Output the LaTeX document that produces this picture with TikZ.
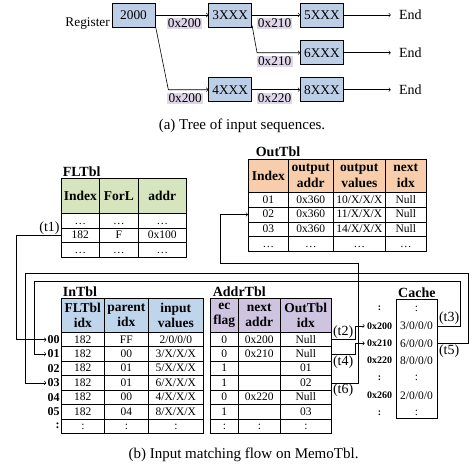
\documentclass[tikz,border=0pt]{standalone}
\usepackage{fontspec}
\setmainfont{Liberation Serif}
\usetikzlibrary{positioning}
\definecolor{seqblue}{RGB}{189,207,231}
\definecolor{addrpurple}{RGB}{224,214,234}
\definecolor{flgreen}{RGB}{214,229,189}
\definecolor{outorange}{RGB}{248,205,172}
\definecolor{inblue}{RGB}{190,213,236}
\definecolor{adpurple}{RGB}{206,196,224}

\begin{document}
\begin{tikzpicture}[x=1pt, y=-1pt, line width=0.7pt,
			seqbox/.style={draw, fill=seqblue, minimum width=43pt, minimum height=24pt, inner sep=0pt, font=\fontsize{13.3}{15}\selectfont},
			seqaddr/.style={fill=addrpurple, inner sep=1.2pt, font=\fontsize{13.3}{15}\selectfont},
			endlbl/.style={inner sep=0pt, inner xsep=8pt, anchor=west, font=\fontsize{14}{16}\selectfont},
			flow/.style={->, line width=0.6pt},
			caption/.style={font=\fontsize{15}{18}\selectfont},
			title/.style={anchor=south west, inner sep=1.5pt, font=\fontsize{14}{16}\selectfont\bfseries},
			hcell/.style={draw, anchor=north west, inner sep=0pt, align=center, font=\fontsize{13.5}{15.5}\selectfont\bfseries},
			cell/.style={draw, anchor=north west, inner sep=0pt, text height=9pt, text depth=2pt, font=\fontsize{11.5}{13}\selectfont},
			rowlbl/.style={inner sep=1pt, font=\fontsize{12}{14}\selectfont\bfseries},
			tlbl/.style={inner sep=1pt, font=\fontsize{14}{16}\selectfont},
			cval/.style={inner sep=1pt, font=\fontsize{11.5}{13}\selectfont},
			caddr/.style={inner sep=2pt, font=\fontsize{10}{12}\selectfont\bfseries}]
		\useasboundingbox (0,0) rectangle (474,474);

		\node[seqbox] (b2000) at (133.5,15) {2000};
		\node[anchor=base east, inner sep=1.5pt, font=\fontsize{13.3}{15}\selectfont] (reg) at ([yshift=1pt]b2000.south west) {Register};
		\node[seqbox, right=53pt of b2000] (b3) {3XXX};
		\node[seqbox, right=48pt of b3] (b5) {5XXX};
		\node[seqbox, below=13pt of b5] (b6) {6XXX};
		\node[seqbox, below=50pt of b3] (b4) {4XXX};
		\node[seqbox, right=48pt of b4] (b8) {8XXX};
		\foreach \b in {5,6,8}
			\node[endlbl, right=47pt of b\b] (e\b) {End};
		\draw[flow] (b2000) -- node[seqaddr, below=2.5pt, pos=0.55] {0x200} (b3);
		\draw[flow] ([yshift=2pt]b2000.south east) -- ([xshift=-40pt]b4.west) -- node[seqaddr, below=2.5pt, pos=0.42] {0x200} (b4);
		\draw[flow] (b3) -- node[seqaddr, below=2.5pt, pos=0.47] {0x210} (b5);
		\draw[flow] ([yshift=2pt]b3.south east) -- ([xshift=-43pt]b6.west) -- node[seqaddr, below=2.5pt, pos=0.41] {0x210} (b6);
		\draw[flow] (b4) -- node[seqaddr, below=2.5pt, pos=0.47] {0x220} (b8);
		\foreach \b in {5,6,8}
			\draw[flow] (b\b) -- (e\b);
		\node[caption] (capa) at (242,126) {(a) Tree of input sequences.};

		\foreach \x/\w/\hd [count=\i] in {61/38/Index, 99/39/ForL, 138/48/addr}
			\node[hcell, fill=flgreen, minimum width=\w pt, minimum height=35pt] (flh\i) at (\x,178) {\hd};
		\node[title] (fltitle) at (flh1.north west) {FLTbl};
		\foreach \va/\vb/\vc [count=\i] in {\dots/\dots/\dots, 182/F/0x100, \dots/\dots/\dots} {
			\pgfmathsetmacro\ry{213+(\i-1)*14.67}
			\node[cell, minimum width=38pt, minimum height=14.67pt] (fl\i-1) at (61,\ry) {\va};
			\node[cell, minimum width=39pt, minimum height=14.67pt] (fl\i-2) at (99,\ry) {\vb};
			\node[cell, minimum width=48pt, minimum height=14.67pt] (fl\i-3) at (138,\ry) {\vc};
		}

		\foreach \x/\w/\hd [count=\i] in {248/40/Index, 288/45/{output\\addr}, 333/52/{output\\values}, 385/41/{next\\idx}}
			\node[hcell, fill=outorange, minimum width=\w pt, minimum height=33pt] (ouh\i) at (\x,159) {\hd};
		\node[title, xshift=6pt] (outitle) at (ouh1.north west) {OutTbl};
		\foreach \va/\vb/\vc/\vd [count=\i] in {01/0x360/{10/X/X/X}/Null, 02/0x360/{11/X/X/X}/Null, 03/0x360/{14/X/X/X}/Null, \dots/\dots/\dots/\dots} {
			\pgfmathsetmacro\ry{192+(\i-1)*14.75}
			\node[cell, minimum width=40pt, minimum height=14.75pt] (ou\i-1) at (248,\ry) {\va};
			\node[cell, minimum width=45pt, minimum height=14.75pt] (ou\i-2) at (288,\ry) {\vb};
			\node[cell, minimum width=52pt, minimum height=14.75pt] (ou\i-3) at (333,\ry) {\vc};
			\node[cell, minimum width=41pt, minimum height=14.75pt] (ou\i-4) at (385,\ry) {\vd};
		}

		\foreach \x/\w/\hd [count=\i] in {61/43/{FLTbl\\idx}, 104/44/{parent\\idx}, 148/55/{input\\values}}
			\node[hcell, fill=inblue, minimum width=\w pt, minimum height=34pt] (inh\i) at (\x,298) {\hd};
		\foreach \x/\w/\hd [count=\i] in {210/28/{ec\\flag}, 238/42/{next\\addr}, 280/51/{OutTbl\\idx}}
			\node[hcell, fill=adpurple, minimum width=\w pt, minimum height=34pt] (adh\i) at (\x,298) {\hd};
		\node[title] (intitle) at (inh1.north west) {InTbl};
		\node[title, xshift=1pt] (adtitle) at (adh1.north west) {AddrTbl};
		\foreach \rn/\va/\vb/\vc/\vd/\ve/\vf [count=\i] in {00/182/FF/{2/0/0/0}/0/0x200/Null, 01/182/00/{3/X/X/X}/0/0x210/Null, 02/182/01/{5/X/X/X}/1//01, 03/182/01/{6/X/X/X}/1//02, 04/182/00/{4/X/X/X}/0/0x220/Null, 05/182/04/{8/X/X/X}/1//03, :/:/:/:/:/:/:} {
			\pgfmathsetmacro\ry{332+(\i-1)*14.43}
			\node[cell, minimum width=43pt, minimum height=14.43pt] (in\i-1) at (61,\ry) {\va};
			\node[cell, minimum width=44pt, minimum height=14.43pt] (in\i-2) at (104,\ry) {\vb};
			\node[cell, minimum width=55pt, minimum height=14.43pt] (in\i-3) at (148,\ry) {\vc};
			\node[cell, minimum width=28pt, minimum height=14.43pt] (ad\i-1) at (210,\ry) {\vd};
			\node[cell, minimum width=42pt, minimum height=14.43pt] (ad\i-2) at (238,\ry) {\ve};
			\node[cell, minimum width=51pt, minimum height=14.43pt] (ad\i-3) at (280,\ry) {\vf};
			\node[rowlbl, left=0pt of in\i-1] (rl\i) {\rn};
		}

		\node[draw, anchor=north west, minimum width=41pt, minimum height=119pt, inner sep=0pt] (cache) at (396,299) {};
		\node[title, anchor=south] (catitle) at (cache.north) {Cache};
		\foreach \ad/\va [count=\i] in {:/:, 0x200/{3/0/0/0}, 0x210/{6/0/0/0}, 0x220/{8/0/0/0}, :/:, 0x260/{2/0/0/0}, :/:} {
			\pgfmathsetmacro\ry{308.5+(\i-1)*17.4}
			\node[cval] (cv\i) at (416.5,\ry) {\va};
			\node[caddr] (ca\i) at (379.5,\ry) {\ad};
		}
		\coordinate (c3out) at (cache.east |- cv2);
		\coordinate (c5out) at (cache.east |- cv3);

		\draw[flow] (fl2-1.west) -- ++(-45,0) |- (rl1.west);
		\node[tlbl, above left=0pt of fl2-1.west] (t1) {(t1)};
		\draw[flow] (ad1-3.east) -- ++(24,0) |- (ca2.west);
		\node[tlbl, above right=0pt of ad1-3.east] (t2) {(t2)};
		\draw[flow] (c3out) -- ++(23,0) -- ++(0,-45) -| ([xshift=-12pt]rl2.west) -- (rl2.west);
		\node[tlbl, above right=0pt of c3out] (t3) {(t3)};
		\draw[flow] (ad2-3.east) -- ++(24,0) |- (ca3.west);
		\node[tlbl, below right=0pt of ad2-3.east] (t4) {(t4)};
		\draw[flow] (c5out) -- ++(31,0) -- ++(0,-70) -| ([xshift=-21pt]rl4.west) -- (rl4.west);
		\node[tlbl, below right=0pt of c5out] (t5) {(t5)};
		\draw[flow] (ad4-3.east) -- ++(27,0) -- ++(0,-120) -| ([xshift=-28pt]ou2-1.west) -- (ou2-1.west);
		\node[tlbl, below right=0pt of ad4-3.east] (t6) {(t6)};

		\node[caption] (capb) at (243.5,455) {(b) Input matching flow on MemoTbl.};
		\end{tikzpicture}
\end{document}
